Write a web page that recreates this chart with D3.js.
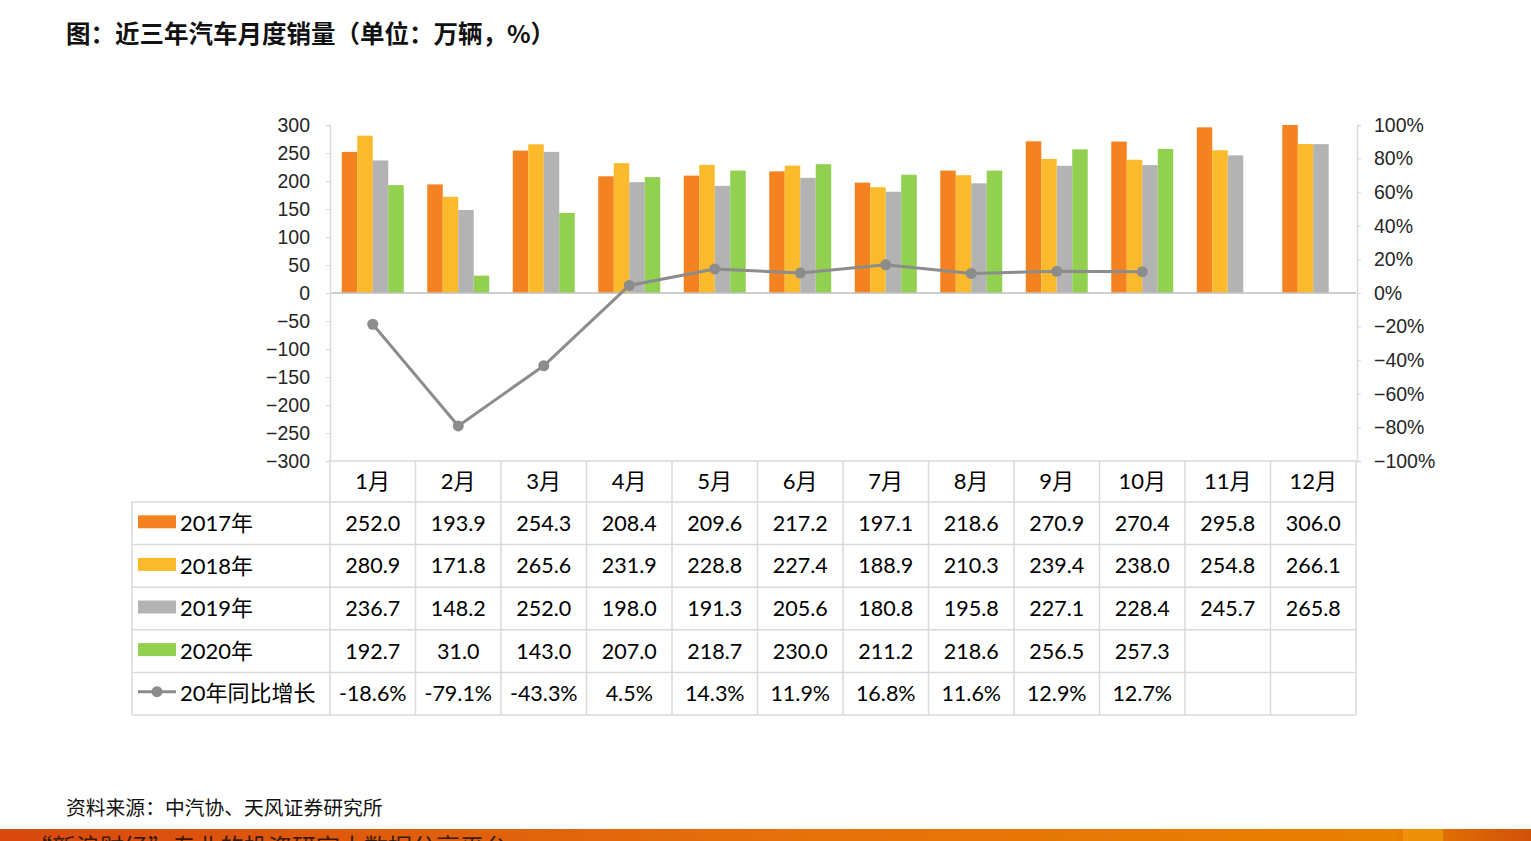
<!DOCTYPE html>
<html>
<head>
<meta charset="utf-8">
<script src="https://cdn.jsdelivr.net/npm/d3@7"></script>
<style>
  body { margin: 0; background: #fff; }
  svg { display: block; }
</style>
</head>
<body>
<script>
// GLOBAL VARIABLES
const WIDTH = 1531;
const HEIGHT = 841;

// DATA
const months = ["1月", "2月", "3月", "4月", "5月", "6月", "7月", "8月", "9月", "10月", "11月", "12月"];
const seriesNames = ["2017年", "2018年", "2019年", "2020年"];
const sales2017 = [252.0, 193.9, 254.3, 208.4, 209.6, 217.2, 197.1, 218.6, 270.9, 270.4, 295.8, 306.0];
const sales2018 = [280.9, 171.8, 265.6, 231.9, 228.8, 227.4, 188.9, 210.3, 239.4, 238.0, 254.8, 266.1];
const sales2019 = [236.7, 148.2, 252.0, 198.0, 191.3, 205.6, 180.8, 195.8, 227.1, 228.4, 245.7, 265.8];
const sales2020 = [192.7, 31.0, 143.0, 207.0, 218.7, 230.0, 211.2, 218.6, 256.5, 257.3];
const growth2020 = [-18.6, -79.1, -43.3, 4.5, 14.3, 11.9, 16.8, 11.6, 12.9, 12.7];
const growthName = "20年同比增长";
const leftTicks = [-300, -250, -200, -150, -100, -50, 0, 50, 100, 150, 200, 250, 300];
const rightTicks = [-100, -80, -60, -40, -20, 0, 20, 40, 60, 80, 100];

const salesBySeries = [sales2017, sales2018, sales2019, sales2020];
const colors = ["#F58220", "#FBBA2B", "#B3B3B3", "#92D050"];
const lineColor = "#8C8C8C";
const gridColor = "#D9D9D9";

const svg = d3.select("body").append("svg").attr("width", WIDTH).attr("height", HEIGHT);

// TITLE
svg.append("text")
  .attr("x", 66).attr("y", 43)
  .attr("font-family", "'Noto Sans CJK SC', sans-serif")
  .attr("font-weight", "bold")
  .attr("font-size", 24.5)
  .attr("fill", "#111")
  .text("图：近三年汽车月度销量（单位：万辆，%）");

// SCALES
const x = d3.scaleBand().domain(months).range([330, 1356]);
const xSub = d3.scaleBand().domain(seriesNames).range([0, x.bandwidth()]).paddingOuter(0.76);
const y = d3.scaleLinear().domain([-300, 300]).range([461, 125]).clamp(true);
const yRight = d3.scaleLinear().domain([-100, 100]).range([461, 125]);

const plotG = svg.append("g");

// BARS
const barData = [];
salesBySeries.forEach((vals, si) => {
  vals.forEach((v, mi) => barData.push({ series: seriesNames[si], month: months[mi], value: v, color: colors[si] }));
});

plotG.append("g")
  .selectAll("rect")
  .data(barData)
  .enter()
  .append("rect")
  .attr("x", d => x(d.month) + xSub(d.series))
  .attr("width", xSub.bandwidth())
  .attr("y", d => y(d.value))
  .attr("height", d => y(0) - y(d.value))
  .attr("fill", d => d.color);

// ZERO LINE
plotG.append("line")
  .attr("x1", x.range()[0]).attr("x2", x.range()[1])
  .attr("y1", y(0)).attr("y2", y(0))
  .attr("stroke", "#BFBFBF").attr("stroke-width", 1.5);

// AXES
const fmtMinus = v => (v < 0 ? "\u2212" + Math.abs(v) : String(v));
const leftAxis = d3.axisLeft(y).tickValues(leftTicks).tickSize(4).tickPadding(16).tickFormat(fmtMinus);
const rightAxis = d3.axisRight(yRight).tickValues(rightTicks).tickSize(4).tickPadding(13).tickFormat(v => fmtMinus(v) + "%");

const styleAxis = g => {
  g.select(".domain").attr("stroke", gridColor).attr("stroke-width", 1.5);
  g.selectAll(".tick line").attr("stroke", gridColor);
  g.selectAll(".tick text")
    .attr("font-family", "'Liberation Sans', Arial, sans-serif")
    .attr("font-size", 19.5)
    .attr("fill", "#262626");
};

svg.append("g").attr("transform", "translate(330,0)").call(leftAxis).call(styleAxis);
svg.append("g").attr("transform", "translate(1357,0)").call(rightAxis).call(styleAxis);

// GROWTH LINE
const lineGen = d3.line()
  .x((d, i) => x(months[i]) + x.bandwidth() / 2)
  .y(d => yRight(d));

plotG.append("path")
  .datum(growth2020)
  .attr("d", lineGen)
  .attr("fill", "none")
  .attr("stroke", lineColor)
  .attr("stroke-width", 3);

plotG.append("g")
  .selectAll("circle")
  .data(growth2020)
  .enter()
  .append("circle")
  .attr("cx", (d, i) => x(months[i]) + x.bandwidth() / 2)
  .attr("cy", d => yRight(d))
  .attr("r", 5.5)
  .attr("fill", lineColor);

// DATA TABLE
const rowKeys = ["header", ...seriesNames, growthName];
const rowY = d3.scaleBand().domain(rowKeys.slice(1)).range([502, 715]);
const tableFont = "Lato, 'Noto Sans CJK SC', sans-serif";
const tableG = svg.append("g");

// horizontal rules
tableG.append("line")
  .attr("x1", 330).attr("x2", 1356).attr("y1", 461).attr("y2", 461)
  .attr("stroke", gridColor).attr("stroke-width", 1.5);
tableG.selectAll("line.h")
  .data([502, ...rowKeys.slice(1).map(k => rowY(k) + rowY.bandwidth())])
  .enter()
  .append("line")
  .attr("class", "h")
  .attr("x1", 132).attr("x2", 1356)
  .attr("y1", d => d).attr("y2", d => d)
  .attr("stroke", gridColor).attr("stroke-width", 1.5);

// vertical rules
tableG.selectAll("line.v")
  .data([...months.map(m => x(m)), 1356])
  .enter()
  .append("line")
  .attr("class", "v")
  .attr("x1", d => d).attr("x2", d => d)
  .attr("y1", 461).attr("y2", 715)
  .attr("stroke", gridColor).attr("stroke-width", 1.5);
tableG.append("line")
  .attr("x1", 132).attr("x2", 132).attr("y1", 502).attr("y2", 715)
  .attr("stroke", gridColor).attr("stroke-width", 1.5);

// month headers
tableG.selectAll("text.month")
  .data(months)
  .enter()
  .append("text")
  .attr("class", "month")
  .attr("x", d => x(d) + x.bandwidth() / 2)
  .attr("y", 481)
  .attr("dy", "0.35em")
  .attr("text-anchor", "middle")
  .attr("font-family", tableFont)
  .attr("font-size", 22)
  .attr("fill", "#000")
  .text(d => d);

// row labels with legend keys
const rowCenter = k => rowY(k) + rowY.bandwidth() / 2;
seriesNames.forEach((name, si) => {
  tableG.append("rect")
    .attr("x", 138).attr("y", rowCenter(name) - 8)
    .attr("width", 38).attr("height", 13)
    .attr("fill", colors[si]);
});
tableG.append("line")
  .attr("x1", 138).attr("x2", 176)
  .attr("y1", rowCenter(growthName) - 2).attr("y2", rowCenter(growthName) - 2)
  .attr("stroke", lineColor).attr("stroke-width", 3);
tableG.append("circle")
  .attr("cx", 157).attr("cy", rowCenter(growthName) - 2).attr("r", 5.5)
  .attr("fill", lineColor);

tableG.selectAll("text.label")
  .data(rowKeys.slice(1))
  .enter()
  .append("text")
  .attr("class", "label")
  .attr("x", 180)
  .attr("y", d => rowCenter(d))
  .attr("dy", "0.35em")
  .attr("font-family", tableFont)
  .attr("font-size", 22)
  .attr("fill", "#000")
  .text(d => d);

// cell values
const cellData = [];
salesBySeries.forEach((vals, si) => {
  vals.forEach((v, mi) => cellData.push({ row: seriesNames[si], month: months[mi], text: v.toFixed(1) }));
});
growth2020.forEach((v, mi) => cellData.push({ row: growthName, month: months[mi], text: v.toFixed(1) + "%" }));

tableG.selectAll("text.cell")
  .data(cellData)
  .enter()
  .append("text")
  .attr("class", "cell")
  .attr("x", d => x(d.month) + x.bandwidth() / 2)
  .attr("y", d => rowCenter(d.row))
  .attr("dy", "0.35em")
  .attr("text-anchor", "middle")
  .attr("font-family", tableFont)
  .attr("font-size", 21.5)
  .attr("fill", "#000")
  .text(d => d.text);

// SOURCE
svg.append("text")
  .attr("x", 66).attr("y", 815)
  .attr("font-family", "'Noto Sans CJK SC', sans-serif")
  .attr("font-size", 19.8)
  .attr("fill", "#111")
  .text("资料来源：中汽协、天风证券研究所");

// BOTTOM BANNER
const defs = svg.append("defs");
const grad = defs.append("linearGradient").attr("id", "banner").attr("x1", "0%").attr("x2", "100%");
grad.append("stop").attr("offset", "0%").attr("stop-color", "#D9480F");
grad.append("stop").attr("offset", "55%").attr("stop-color", "#E6730A");
grad.append("stop").attr("offset", "91%").attr("stop-color", "#E88000");
grad.append("stop").attr("offset", "100%").attr("stop-color", "#D2500A");
svg.append("rect")
  .attr("x", 0).attr("y", 829).attr("width", WIDTH).attr("height", HEIGHT - 829)
  .attr("fill", "url(#banner)");
svg.append("rect")
  .attr("x", 1403).attr("y", 829).attr("width", 40).attr("height", HEIGHT - 829)
  .attr("fill", "#F0960A").attr("opacity", 0.8);
svg.append("text")
  .attr("x", 28).attr("y", 856)
  .attr("font-family", "'Noto Sans CJK SC', sans-serif")
  .attr("font-size", 24)
  .attr("fill", "#3a1a05")
  .text("“新浪财经”专业的投资研究大数据分享平台");
</script>
</body>
</html>
